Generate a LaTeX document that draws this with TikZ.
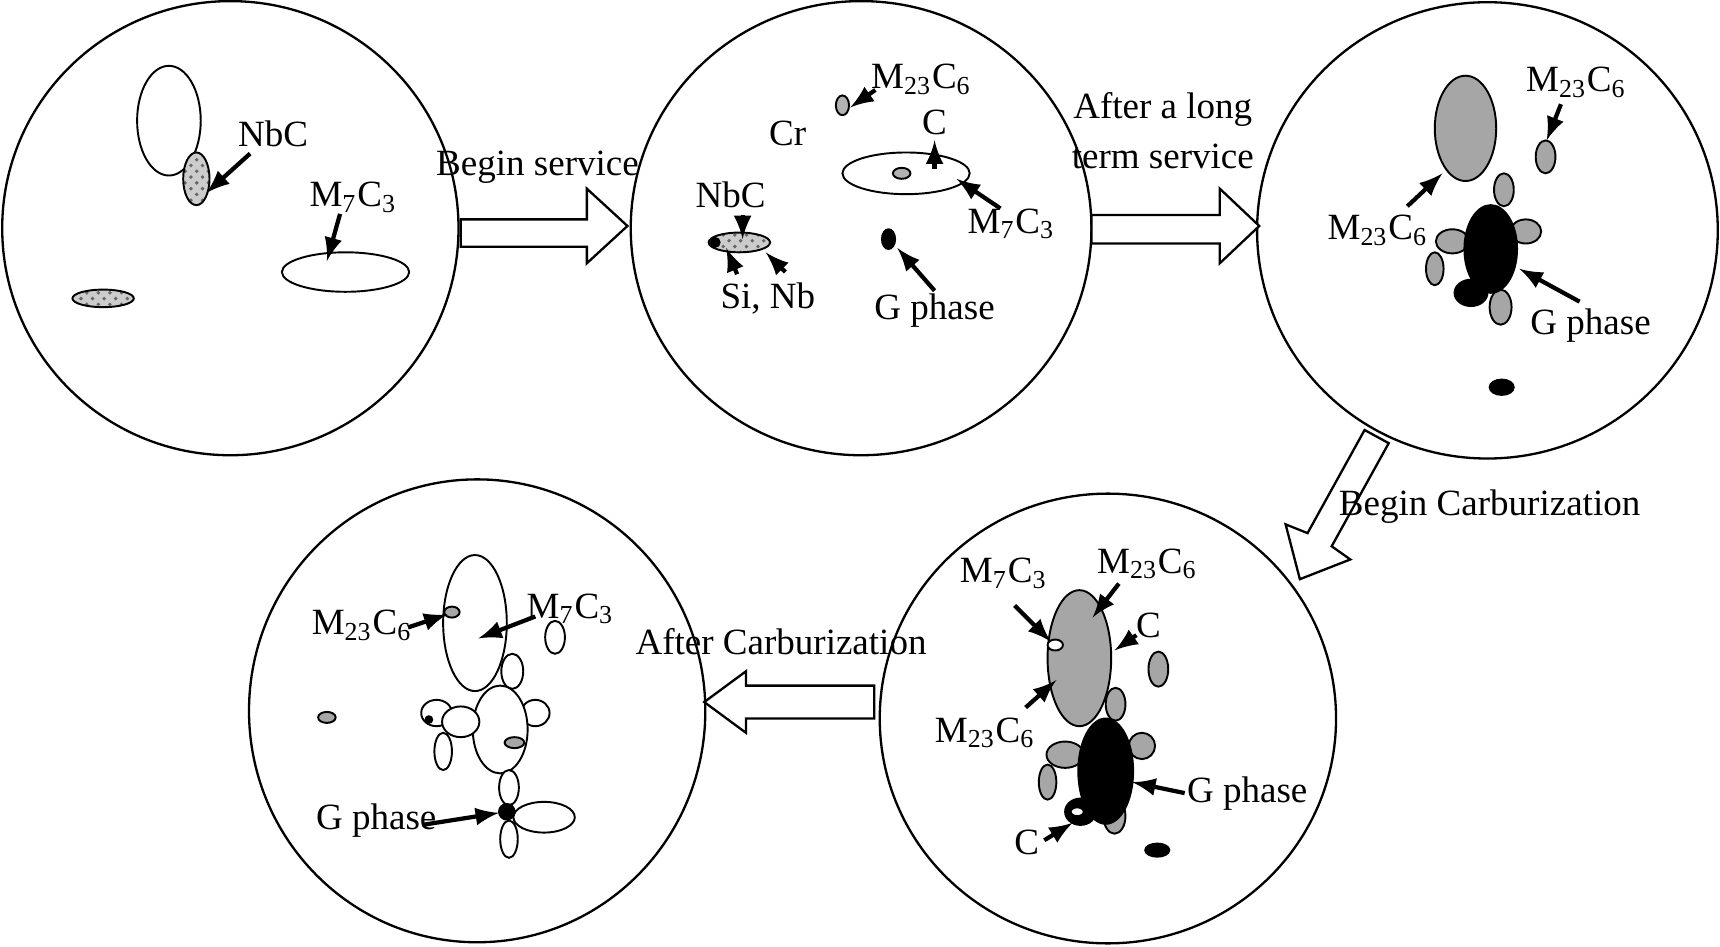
\documentclass[tikz,border=0pt]{standalone}
\usepackage{fontspec}
\setmainfont{Liberation Serif}
\usetikzlibrary{patterns}
\begin{document}
\begin{tikzpicture}[x=0.01cm,y=-0.01cm,
  lab/.style={font=\fontsize{9.6}{11}\selectfont,inner sep=1pt},
  big/.style={draw,line width=0.6pt},
  part/.style={draw,line width=0.5pt},
  arr/.style={-latex,line width=1.1pt},
  hol/.style={draw,fill=white,line width=0.6pt}]
\useasboundingbox (0,0) rectangle (1568,863);
\newcommand{\el}[5][white]{\fill[#1,draw=black,line width=0.5pt] (#2,#3) ellipse [x radius=#4,y radius=#5];}
\newcommand{\hatchel}[4]{\fill[gray!40] (#1,#2) ellipse [x radius=#3,y radius=#4];
  \path[pattern=crosshatch dots,pattern color=gray!80!black] (#1,#2) ellipse [x radius=#3,y radius=#4];
  \draw[line width=0.5pt] (#1,#2) ellipse [x radius=#3,y radius=#4];}
% big circles
\draw[big] (210,208) ellipse [x radius=208,y radius=207];
\draw[big] (785,208) ellipse [x radius=210,y radius=207];
\draw[big] (1356,210) ellipse [x radius=210,y radius=208];
\draw[big] (1010,655) ellipse [x radius=208,y radius=205];
\draw[big] (435,648) ellipse [x radius=208,y radius=211];
% hollow arrows
\draw[hol] (420,200)--(535,200)--(535,172)--(572,206)--(535,240)--(535,225)--(420,225)--cycle;
\draw[hol] (995,196)--(1112,196)--(1112,172)--(1148,206)--(1112,240)--(1112,222)--(995,222)--cycle;
\draw[hol] (1266,404)--(1214,498)--(1231,510)--(1185,528)--(1172,478)--(1192,486)--(1244,392)--cycle;
\draw[hol] (797,625)--(680,625)--(680,612)--(642,640)--(680,668)--(680,655)--(797,655)--cycle;
% transition labels
\node[lab] (t1) at (490,152) {Begin service};
\node[lab] (t2) at (1060,100) {After a long};
\node[lab] (t2b) at (1060,143) {term service};
\node[lab] (t3) at (1358,462) {Begin Carburization};
\node[lab] (t4) at (712,585) {After Carburization};
% ---- circle 1
\el{154}{110}{29}{50}
\hatchel{179}{163}{12}{24}
\hatchel{94}{272}{28}{8}
\el{315}{248}{58}{18}
\node[lab] (a1) at (249,122) {NbC};
\coordinate (a1e) at (188,176);
\draw[arr] (228,140)--(a1e);
\node[lab] (a2) at (322,180) {M\textsubscript{7}C\textsubscript{3}};
\coordinate (a2e) at (298,238);
\draw[arr] (310,195)--(a2e);
% ---- circle 2
\el[gray!60]{768}{96}{6}{9}
\node[lab] (b1) at (840,72) {M\textsubscript{23}C\textsubscript{6}};
\draw[arr] (798,82)--(775,98);
\node[lab] (b2) at (718,122) {Cr};
\el{826}{158}{58}{19}
\el[gray!60]{822}{158}{8}{5}
\draw[arr] (852,154)--(852,128);
\node[lab] (b3) at (852,112) {C};
\node[lab] (b4) at (922,204) {M\textsubscript{7}C\textsubscript{3}};
\draw[arr] (912,190)--(872,163);
\node[lab] (b5) at (666,178) {NbC};
\hatchel{674}{221}{28}{9}
\fill (652,221) circle (5);
\draw[arr] (677,196)--(677,218);
\draw[arr] (672,250)--(662,226);
\draw[arr] (716,248)--(698,230);
\node[lab] (b6) at (700,272) {Si, Nb};
\el[black]{810}{218}{6}{9}
\draw[arr] (852,265)--(818,226);
\node[lab] (b7) at (852,283) {G phase};
% ---- circle 3
\el[gray!70]{1336}{117}{28}{48}
\node[lab] (c1) at (1437,75) {M\textsubscript{23}C\textsubscript{6}};
\el[gray!70]{1409}{143}{9}{15}
\draw[arr] (1423,95)--(1410,128);
\node[lab] (c2) at (1256,210) {M\textsubscript{23}C\textsubscript{6}};
\draw[arr] (1283,188)--(1315,158);
\el[gray!70]{1371}{173}{9}{15}
\el[gray!70]{1324}{220}{15}{11}
\el[gray!70]{1391}{211}{14}{11}
\el[gray!70]{1308}{245}{8}{15}
\el[gray!70]{1368}{280}{10}{16}
\el[black]{1359}{227}{24}{40}
\el[black]{1341}{267}{15}{12}
\draw[arr] (1440,275)--(1385,245);
\node[lab] (c3) at (1450,297) {G phase};
\el[black]{1369}{353}{11}{7}
% ---- circle 4
\node[lab] (d1) at (915,523) {M\textsubscript{7}C\textsubscript{3}};
\node[lab] (d2) at (1046,514) {M\textsubscript{23}C\textsubscript{6}};
\el[gray!70]{984}{600}{29}{62}
\el{962}{588}{7}{5}
\draw[arr] (925,552)--(958,585);
\draw[arr] (1020,532)--(996,563);
\node[lab] (d3) at (1047,570) {C};
\draw[arr] (1036,579)--(1016,593);
\el[gray!70]{1056}{610}{9}{16}
\node[lab] (d4) at (898,668) {M\textsubscript{23}C\textsubscript{6}};
\draw[arr] (935,645)--(963,620);
\el[gray!70]{1017}{642}{9}{15}
\el[gray!70]{971}{688}{17}{12}
\el[gray!70]{1041}{680}{12}{12}
\el[gray!70]{955}{713}{8}{16}
\el[gray!70]{1016}{744}{10}{16}
\el[black]{1008}{703}{25}{48}
\el[black]{985}{740}{14}{12}
\el{982}{740}{6}{4}
\draw[arr] (1080,723)--(1032,713);
\node[lab] (d5) at (1137,723) {G phase};
\node[lab] (d6) at (936,768) {C};
\draw[arr] (952,766)--(978,750);
\el[black]{1055}{775}{11}{6}
% ---- circle 5
\el{433}{568}{29}{62}
\el[gray!70]{412}{558}{7}{5}
\node[lab] (e1) at (330,570) {M\textsubscript{23}C\textsubscript{6}};
\draw[arr] (372,572)--(408,560);
\node[lab] (e2) at (520,555) {M\textsubscript{7}C\textsubscript{3}};
\draw[arr] (488,562)--(436,582);
\el{506}{581}{9}{15}
\el{467}{612}{10}{16}
\el{488}{650}{13}{12}
\el{404}{685}{8}{17}
\el{456}{665}{25}{40}
\el{398}{650}{14}{12}
\el{420}{658}{17}{14}
\fill (391,656) circle (4);
\el[gray!70]{469}{677}{9}{5}
\el[gray!70]{298}{654}{8}{5}
\el{464}{718}{9}{16}
\el{496}{745}{28}{14}
\el{464}{765}{8}{17}
\fill (462,740) circle (8);
\node[lab] (e3) at (343,748) {G phase};
\draw[arr] (385,752)--(455,741);
\end{tikzpicture}
\end{document}
